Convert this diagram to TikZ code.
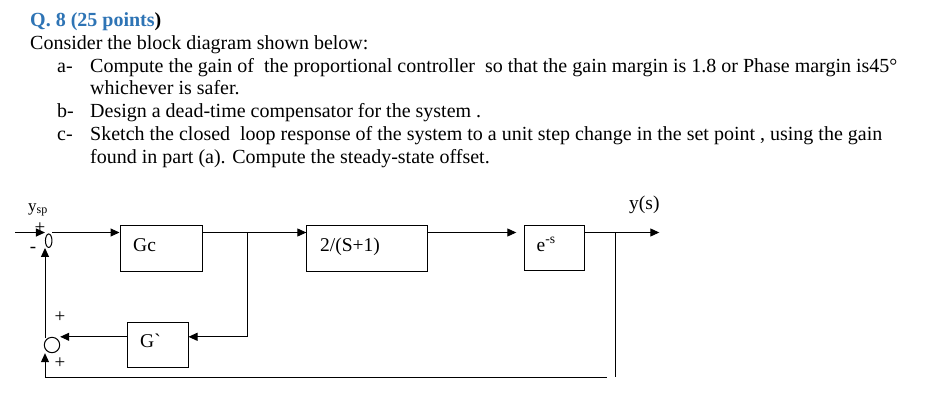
\documentclass[tikz,border=0pt]{standalone}
\usepackage{fontspec}
\setmainfont{Liberation Serif}
\usetikzlibrary{arrows.meta,calc,shapes.geometric}
\definecolor{qblue}{HTML}{2E74B5}
\begin{document}
\begin{tikzpicture}[x=1pt,y=-1pt,
  wire/.style={line width=1pt},
  arr/.style={line width=1pt,-{Triangle[length=9pt,width=8pt]}},
  blk/.style={draw,line width=1pt,rectangle,inner sep=0pt},
  txt/.style={inner sep=0pt,anchor=base west,font=\fontsize{20}{22}\selectfont},
  lbl/.style={inner sep=0pt,anchor=base west,font=\fontsize{19.5}{19.5}\selectfont},
  sgn/.style={inner sep=0pt,font=\fontsize{19}{19}\selectfont},
]
\useasboundingbox[fill=white] (0,0) rectangle (927,408);

% question text
\node[txt] (t0) at (30,26) {\bfseries\color{qblue}Q. 8 (25 points\color{black})};
\node[txt] (t1) at (30,49.3) {Consider the block diagram shown below:};
\node[txt] (la) at (57,72) {a-};
\node[txt] (ta) at (90,72) {Compute the gain of\ \ the proportional controller\ \ so that the gain margin is 1.8 or Phase margin is45°};
\node[txt] (ta2) at (90,94.5) {whichever is safer.};
\node[txt] (lb) at (57,117) {b-};
\node[txt] (tb) at (90,117) {Design a dead-time compensator for the system .};
\node[txt] (lc) at (57,140) {c-};
\node[txt] (tc) at (90,140) {Sketch the closed\ \ loop response of the system to a unit step change in the set point , using the gain};
\node[txt] (tc2) at (90,163) {found in part (a). Compute the steady-state offset.};

% blocks
\node[blk,minimum width=82pt,minimum height=46pt] (Gc) at (161,248) {};
\node[lbl] (GcT) at (133,251) {Gc};
\node[blk,minimum width=120.3pt,minimum height=46pt] (P) at (367,248) {};
\node[lbl] (PT) at (320,251.5) {2/(S+1)};
\node[blk,minimum width=60pt,minimum height=45.5pt] (D) at (554.3,248) {};
\node[lbl] (DT) at (536.5,251) {e\textsuperscript{-s}};
\node[blk,minimum width=61pt,minimum height=45pt] (G2) at (157.5,344.8) {};
\node[lbl] (G2T) at (140,347.5) {G\textasciigrave};

% junctions
\node[draw,ellipse,line width=1pt,minimum width=6.5pt,minimum height=13.5pt,inner sep=0pt] (s1) at (48.7,240.7) {};
\node[draw,circle,line width=1pt,minimum size=15.4pt,inner sep=0pt] (s2) at (52,345) {};

% coordinates
\coordinate (in) at (15,232.5);
\coordinate (b1) at (247,232.5);
\coordinate (b1d) at (247,336.8);
\coordinate (b2) at (615,232.5);
\coordinate (b2d) at (615,377.3);
\coordinate (out) at (659.3,232.5);
\coordinate (fbr) at (606.5,377.3);
\coordinate (fbl) at (45,377.3);
\coordinate (up2) at (45,338);

% wires
\draw[arr] (in) -- (in -| s1.west);
\draw[arr] (in -| s1.east) -- (in -| Gc.west);
\draw[arr] (in -| Gc.east) -- (in -| P.west);
\draw[wire] (b1) -- (b1d);
\draw[arr] (b1d) -- (b1d -| G2.east);
\draw[arr] (b1d -| G2.west) -- (b1d -| s2.east);
\draw[arr] (in -| P.east) -- ($(in -| D.west)+(-7.5,0)$);
\draw[arr] (in -| D.east) -- (out);
\draw[wire] (b2) -- (b2d);
\draw[arr] (fbr) -- (fbl) -- (fbl |- s2.south);
\draw[arr] (up2) -- (up2 |- s1.south);

% signs and signal labels
\node[sgn] (p1) at (40,228) {+};
\node[sgn] (m1) at (33,250) {-};
\node[sgn] (p2) at (60,316.7) {+};
\node[sgn] (p3) at (60,363) {+};
\node[inner sep=0pt,anchor=base west] (ysp) at (28,211) {{\fontsize{17}{17}\selectfont y}\raisebox{-2pt}{\fontsize{12}{12}\selectfont sp}};
\node[lbl] (ys) at (629,209.5) {y(s)};
\end{tikzpicture}
\end{document}
